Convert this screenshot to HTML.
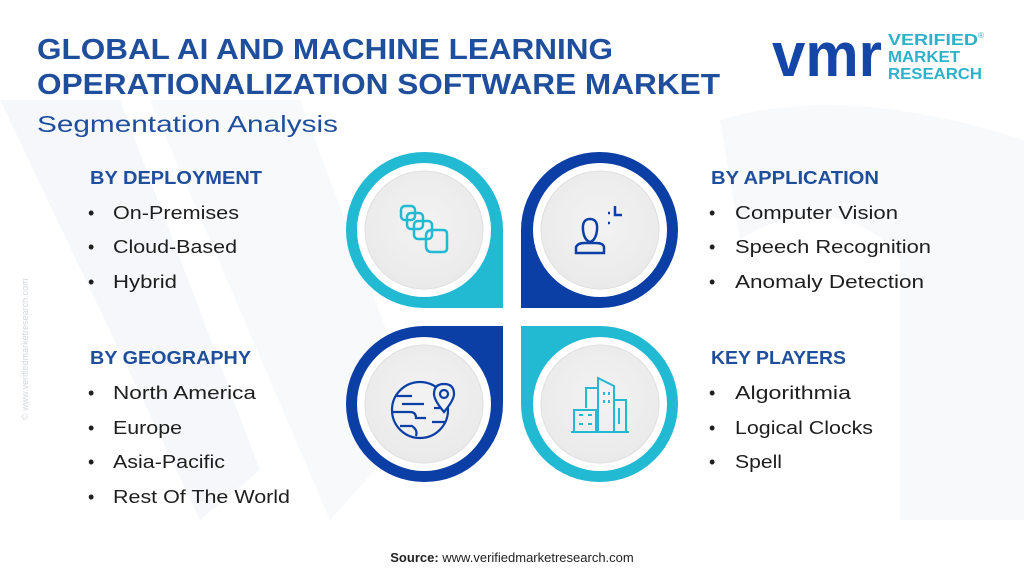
<!DOCTYPE html>
<html><head><meta charset="utf-8"><style>
html,body{margin:0;padding:0;background:#fff}
svg{display:block}
text{font-family:"Liberation Sans",sans-serif}
</style></head><body>
<svg width="1024" height="576" viewBox="0 0 1024 576" xmlns="http://www.w3.org/2000/svg">
<rect width="1024" height="576" fill="#fff"/>
<!-- faint watermark -->
<g fill="#f5f7fa">
<path d="M0 100 L120 100 L260 470 L200 520 Z"/>
<path d="M150 100 L300 100 L420 420 L330 520 Z" opacity="0.7"/>
<path d="M720 120 C820 90 930 110 1024 140 L1024 520 L900 520 L900 260 C860 200 780 210 740 240 Z" opacity="0.8"/>
</g>
<text x="28" y="420" font-size="9" fill="#d3d7de" transform="rotate(-90 28 420)">© www.verifiedmarketresearch.com</text>

<!-- Title -->
<text x="37" y="59" font-size="29" font-weight="bold" fill="#1f4e9c" textLength="576" lengthAdjust="spacingAndGlyphs">GLOBAL AI AND MACHINE LEARNING</text>
<text x="37" y="94" font-size="29" font-weight="bold" fill="#1f4e9c" textLength="683" lengthAdjust="spacingAndGlyphs">OPERATIONALIZATION SOFTWARE MARKET</text>
<text x="37" y="132" font-size="23" fill="#1f4e9c" textLength="301" lengthAdjust="spacingAndGlyphs">Segmentation Analysis</text>

<!-- Logo -->
<text x="772" y="76" font-size="62" font-weight="bold" fill="#1446a8" textLength="110" lengthAdjust="spacingAndGlyphs">vmr</text>
<g font-size="16" fill="#2ab3c9" font-weight="bold">
<text x="888" y="45" textLength="90" lengthAdjust="spacingAndGlyphs">VERIFIED</text>
<text x="888" y="62" textLength="72" lengthAdjust="spacingAndGlyphs">MARKET</text>
<text x="888" y="79" textLength="94" lengthAdjust="spacingAndGlyphs">RESEARCH</text>
</g>
<text x="978" y="38" font-size="8" fill="#2ab3c9">®</text>

<!-- Lists -->
<g font-size="18">
<text x="90" y="184" font-weight="bold" fill="#1f4e9c" textLength="172" lengthAdjust="spacingAndGlyphs">BY DEPLOYMENT</text>
<g fill="#1e1e1e">
<text x="88" y="219">•</text><text x="113" y="219" textLength="126" lengthAdjust="spacingAndGlyphs">On-Premises</text>
<text x="88" y="253">•</text><text x="113" y="253" textLength="124" lengthAdjust="spacingAndGlyphs">Cloud-Based</text>
<text x="88" y="288">•</text><text x="113" y="288" textLength="64" lengthAdjust="spacingAndGlyphs">Hybrid</text>
</g>
<text x="90" y="364" font-weight="bold" fill="#1f4e9c" textLength="161" lengthAdjust="spacingAndGlyphs">BY GEOGRAPHY</text>
<g fill="#1e1e1e">
<text x="88" y="399">•</text><text x="113" y="399" textLength="143" lengthAdjust="spacingAndGlyphs">North America</text>
<text x="88" y="434">•</text><text x="113" y="434" textLength="69" lengthAdjust="spacingAndGlyphs">Europe</text>
<text x="88" y="468">•</text><text x="113" y="468" textLength="112" lengthAdjust="spacingAndGlyphs">Asia-Pacific</text>
<text x="88" y="503">•</text><text x="113" y="503" textLength="177" lengthAdjust="spacingAndGlyphs">Rest Of The World</text>
</g>
<text x="711" y="184" font-weight="bold" fill="#1f4e9c" textLength="168" lengthAdjust="spacingAndGlyphs">BY APPLICATION</text>
<g fill="#1e1e1e">
<text x="709" y="219">•</text><text x="735" y="219" textLength="163" lengthAdjust="spacingAndGlyphs">Computer Vision</text>
<text x="709" y="253">•</text><text x="735" y="253" textLength="196" lengthAdjust="spacingAndGlyphs">Speech Recognition</text>
<text x="709" y="288">•</text><text x="735" y="288" textLength="189" lengthAdjust="spacingAndGlyphs">Anomaly Detection</text>
</g>
<text x="711" y="364" font-weight="bold" fill="#1f4e9c" textLength="135" lengthAdjust="spacingAndGlyphs">KEY PLAYERS</text>
<g fill="#1e1e1e">
<text x="709" y="399">•</text><text x="735" y="399" textLength="116" lengthAdjust="spacingAndGlyphs">Algorithmia</text>
<text x="709" y="434">•</text><text x="735" y="434" textLength="138" lengthAdjust="spacingAndGlyphs">Logical Clocks</text>
<text x="709" y="468">•</text><text x="735" y="468" textLength="47" lengthAdjust="spacingAndGlyphs">Spell</text>
</g>
</g>

<!-- Teardrops -->
<defs>
<radialGradient id="g" cx="50%" cy="45%" r="55%"><stop offset="0" stop-color="#f3f3f3"/><stop offset="1" stop-color="#eaeaea"/></radialGradient>
</defs>
<path d="M424 152 A78 78 0 0 0 346 230 A78 78 0 0 0 424 308 L503 308 L503 230 A78 78 0 0 0 424 152 Z" fill="#22b9d3"/>
<path d="M600 152 A78 78 0 0 1 678 230 A78 78 0 0 1 600 308 L521 308 L521 230 A78 78 0 0 1 600 152 Z" fill="#0b3fa5"/>
<path d="M424 482 A78 78 0 0 1 346 404 A78 78 0 0 1 424 326 L503 326 L503 404 A78 78 0 0 1 424 482 Z" fill="#0b3fa5"/>
<path d="M600 482 A78 78 0 0 0 678 404 A78 78 0 0 0 600 326 L521 326 L521 404 A78 78 0 0 0 600 482 Z" fill="#22b9d3"/>
<g>
<circle cx="424" cy="230" r="67" fill="#fff"/><circle cx="424" cy="230" r="59" fill="url(#g)" stroke="#e0e0e0"/>
<circle cx="600" cy="230" r="67" fill="#fff"/><circle cx="600" cy="230" r="59" fill="url(#g)" stroke="#e0e0e0"/>
<circle cx="424" cy="404" r="67" fill="#fff"/><circle cx="424" cy="404" r="59" fill="url(#g)" stroke="#e0e0e0"/>
<circle cx="600" cy="404" r="67" fill="#fff"/><circle cx="600" cy="404" r="59" fill="url(#g)" stroke="#e0e0e0"/>
</g>
<g fill="none" stroke="#22b9d3" stroke-width="2.5">
<rect x="401" y="206" width="14" height="14" rx="4"/>
<rect x="407" y="213" width="16" height="16" rx="4"/>
<rect x="414" y="221" width="18" height="18" rx="4"/>
<path d="M447 234 L447 248 Q447 252 443 252 L432 252 Q426 252 426 246 L426 236 Q426 230 432 230 L443 230 Q447 230 447 234"/>
</g>
<g fill="none" stroke="#0b3fa5" stroke-width="2.5">
<path d="M590 219 Q582 219 583 230 Q584 240 590 242 Q596 240 597 230 Q598 219 590 219 Z"/>
<path d="M576 253 L576 247 Q578 243 584 243 L596 243 Q603 243 604 247 L604 253 Z"/>
<path d="M615 206 L615 215 L622 215"/><path d="M608 213 L610 213 M608 223 L610 223"/>
</g>
<g fill="none" stroke="#0b3fa5" stroke-width="2.2">
<circle cx="420" cy="410" r="28"/>
<path d="M396 396 L412 396 M402 404 L424 404 M393 412 L410 412 Q416 412 416 418 L426 418 M400 426 L412 426 Q418 430 416 436 M432 422 L446 422 M434 408 L448 408"/>
<path d="M444 384 Q434 384 434 394 Q434 400 444 412 Q454 400 454 394 Q454 384 444 384 Z" fill="#f0f0f0"/>
<circle cx="444" cy="394" r="4"/>
</g>
<g fill="none" stroke="#22b9d3" stroke-width="2">
<path d="M571 432 L629 432"/>
<rect x="574" y="410" width="22" height="22"/>
<path d="M598 432 L598 378 L614 386 L614 432"/>
<path d="M614 400 L626 400 L626 432"/>
<path d="M586 408 L586 388 L598 388"/>
<path d="M579 415 h4 M588 415 h4 M579 424 h4 M588 424 h4 M604 392 v3 M609 392 v3 M604 400 v3 M609 400 v3 M619 408 v16"/>
</g>

<text x="512" y="562" font-size="13" text-anchor="middle" fill="#222"><tspan font-weight="bold">Source: </tspan>www.verifiedmarketresearch.com</text>
</svg>
</body></html>
